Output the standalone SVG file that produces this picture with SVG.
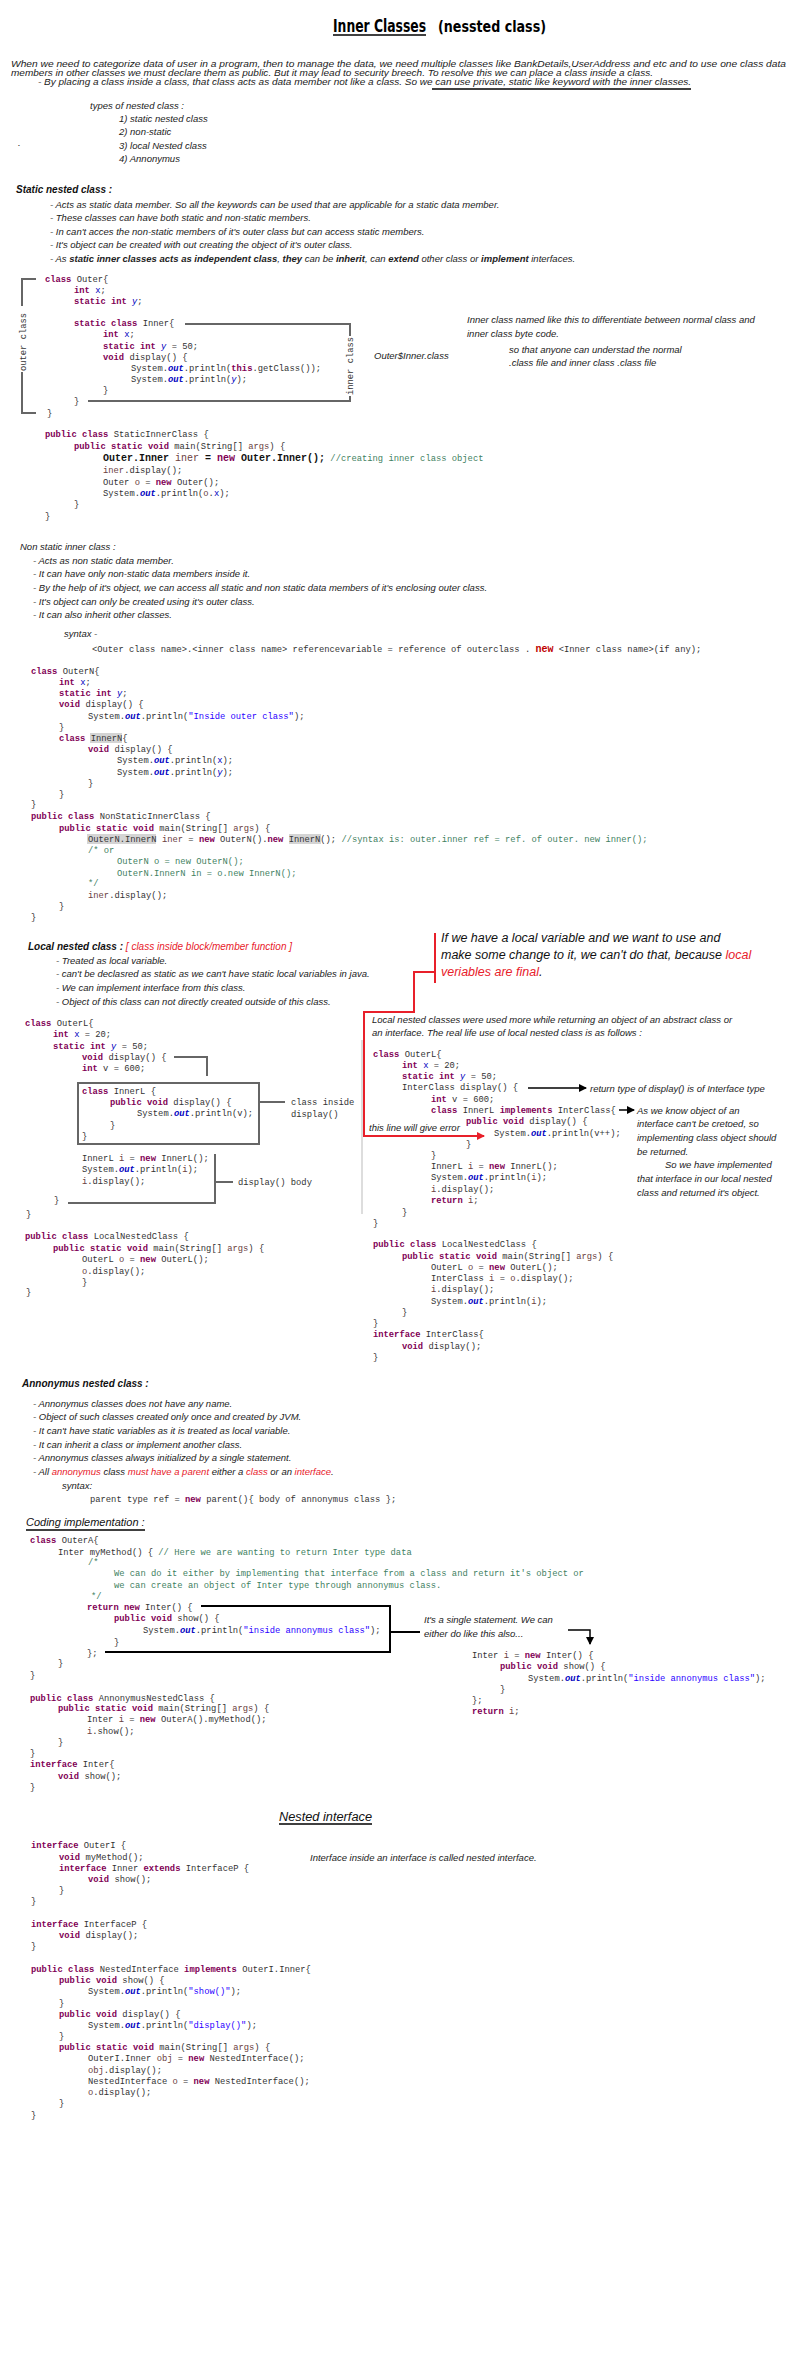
<svg xmlns="http://www.w3.org/2000/svg" width="800" height="2359" viewBox="0 0 800 2359" xml:space="preserve">
<style>
.t{font-family:"Liberation Sans",Arial,sans-serif;font-style:italic;font-size:9.5px;fill:#222}
.h{font-family:"Liberation Sans",Arial,sans-serif;font-style:italic;font-weight:bold;font-size:10px;fill:#111}
.c{font-family:"Liberation Mono","DejaVu Sans Mono",monospace;font-size:8.8px;fill:#333}
.k{fill:#7f0055;font-weight:bold}
.o{fill:#0000c0;font-weight:bold;font-style:italic}
.s{fill:#2a00ff}
.m{fill:#3f7f5f}
.f{fill:#0000c0}
.a{fill:#6a3e3e}
.r{fill:#e8202a}
.b{font-weight:bold}
.ln{stroke:#333;stroke-width:1.5;fill:none}
.gl{stroke:#666;stroke-width:2;fill:none}
.red{stroke:#e8202a;stroke-width:2;fill:none}
.hl{fill:#d4d4d4}
</style>
<defs>
<marker id="ah" markerWidth="8" markerHeight="8" refX="7" refY="4" orient="auto" markerUnits="userSpaceOnUse"><path d="M0,0 L8,4 L0,8 z" fill="#000"/></marker>
<marker id="ahr" markerWidth="8" markerHeight="8" refX="7" refY="4" orient="auto" markerUnits="userSpaceOnUse"><path d="M0,0 L8,4 L0,8 z" fill="#e8202a"/></marker>
</defs>
<rect width="800" height="2359" fill="#fff"/>

<g id="intro">
<text x="333" y="32" font-family="DejaVu Sans Condensed,sans-serif" font-weight="bold" font-size="17" textLength="93" lengthAdjust="spacingAndGlyphs">Inner Classes</text>
<line x1="333" y1="35" x2="426" y2="35" stroke="#000" stroke-width="1.5"/>
<text x="438" y="32" font-family="DejaVu Sans Condensed,sans-serif" font-weight="bold" font-size="15" textLength="108" lengthAdjust="spacingAndGlyphs">(nessted class)</text>
<text class="t" x="11" y="67" textLength="775" lengthAdjust="spacingAndGlyphs">When we need to categorize data of user in a program, then to manage the data, we need multiple classes like BankDetails,UserAddress and etc and to use one class data</text>
<text class="t" x="11" y="76" textLength="642" lengthAdjust="spacingAndGlyphs">members in other classes we must declare them as public. But it may lead to security breech. To resolve this we can place a class inside a class.</text>
<text class="t" x="38" y="85" textLength="653" lengthAdjust="spacingAndGlyphs">- By placing a class inside a class, that class acts as data member not like a class. So we can use private, static like keyword with the inner classes.</text>
<line x1="432" y1="89" x2="691" y2="89" stroke="#000" stroke-width="1.5"/>
<text class="t" x="90" y="109">types of nested class :</text>
<text class="t" x="119" y="122">1) static nested class</text>
<text class="t" x="119" y="135">2) non-static</text>
<text class="t" x="18" y="146">.</text>
<text class="t" x="119" y="149">3) local Nested class</text>
<text class="t" x="119" y="162">4) Annonymus</text>
</g>

<g id="static-section">
<text class="h" x="16" y="193">Static nested class :</text>
<text class="t" x="50" y="208">- Acts as static data member. So all the keywords can be used that are applicable for a static data member.</text>
<text class="t" x="50" y="221">- These classes can have both static and non-static members.</text>
<text class="t" x="50" y="235">- In can't acces the non-static members of it's outer class but can access static members.</text>
<text class="t" x="50" y="248">- It's object can be created with out creating the object of it's outer class.</text>
<text class="t" x="50" y="262">- As <tspan class="b">static inner classes acts as independent class</tspan>, <tspan class="b">they</tspan> can be <tspan class="b">inherit</tspan>, can <tspan class="b">extend</tspan> other class or <tspan class="b">implement</tspan> interfaces.</text>
</g>

<g id="outer-code">
<text class="c" x="45" y="282"><tspan class="k">class</tspan> Outer{</text>
<text class="c" x="74" y="293"><tspan class="k">int</tspan> <tspan class="f">x</tspan>;</text>
<text class="c" x="74" y="304"><tspan class="k">static int</tspan> <tspan class="f" font-style="italic">y</tspan>;</text>
<text class="c" x="74" y="326"><tspan class="k">static class</tspan> Inner{</text>
<text class="c" x="103" y="337"><tspan class="k">int</tspan> <tspan class="f">x</tspan>;</text>
<text class="c" x="103" y="349"><tspan class="k">static int</tspan> <tspan class="f" font-style="italic">y</tspan> = 50;</text>
<text class="c" x="103" y="360"><tspan class="k">void</tspan> display() {</text>
<text class="c" x="131" y="371">System.<tspan class="o">out</tspan>.println(<tspan class="k">this</tspan>.getClass());</text>
<text class="c" x="131" y="382">System.<tspan class="o">out</tspan>.println(<tspan class="f" font-style="italic">y</tspan>);</text>
<text class="c" x="103" y="393">}</text>
<text class="c" x="74" y="404">}</text>
<text class="c" x="47" y="416">}</text>
</g>
<g id="outer-notes">
<text class="t" x="374" y="359">Outer$Inner.class</text>
<text class="t" x="467" y="323">Inner class named like this to differentiate between normal class and</text>
<text class="t" x="467" y="337">inner class byte code.</text>
<text class="t" x="509" y="353">so that anyone can understad the normal</text>
<text class="t" x="509" y="366">.class file and inner class .class file</text>
</g>

<g id="static-main">
<text class="c" x="45" y="437"><tspan class="k">public class</tspan> StaticInnerClass {</text>
<text class="c" x="74" y="449"><tspan class="k">public static void</tspan> main(String[] <tspan class="a">args</tspan>) {</text>
<text class="c" x="103" y="461"><tspan font-size="10" font-weight="bold" fill="#111">Outer.Inner <tspan class="a" font-weight="normal">iner</tspan> = <tspan class="k">new</tspan> Outer.Inner();</tspan> <tspan class="m">//creating inner class object</tspan></text>
<text class="c" x="103" y="473"><tspan class="a">iner</tspan>.display();</text>
<text class="c" x="103" y="485">Outer <tspan class="a">o</tspan> = <tspan class="k">new</tspan> Outer();</text>
<text class="c" x="103" y="496">System.<tspan class="o">out</tspan>.println(<tspan class="a">o</tspan>.<tspan class="f">x</tspan>);</text>
<text class="c" x="74" y="507">}</text>
<text class="c" x="45" y="519">}</text>
</g>

<g id="nonstatic-section">
<text class="t" x="20" y="550">Non static inner class :</text>
<text class="t" x="33" y="564">- Acts as non static data member.</text>
<text class="t" x="33" y="577">- It can have only non-static data members inside it.</text>
<text class="t" x="33" y="591">- By the help of it's object, we can access all static and non static data members of it's enclosing outer class.</text>
<text class="t" x="33" y="605">- It's object can only be created using it's outer class.</text>
<text class="t" x="33" y="618">- It can also inherit other classes.</text>
<text class="t" x="64" y="637">syntax -</text>
<text class="c" x="92" y="652">&lt;Outer class name&gt;.&lt;inner class name&gt;  referencevariable = reference of outerclass . <tspan fill="#c00000" font-weight="bold" font-size="10">new</tspan> &lt;Inner class name&gt;(if any);</text>
</g>

<g id="outerN-code">
<text class="c" x="31" y="674"><tspan class="k">class</tspan> OuterN{</text>
<text class="c" x="59" y="685"><tspan class="k">int</tspan> <tspan class="f">x</tspan>;</text>
<text class="c" x="59" y="696"><tspan class="k">static int</tspan> <tspan class="f" font-style="italic">y</tspan>;</text>
<text class="c" x="59" y="707"><tspan class="k">void</tspan> display() {</text>
<text class="c" x="88" y="719">System.<tspan class="o">out</tspan>.println(<tspan class="s">"Inside outer class"</tspan>);</text>
<text class="c" x="59" y="730">}</text>
<rect class="hl" x="90" y="733" width="32" height="10"/>
<text class="c" x="59" y="741"><tspan class="k">class</tspan> InnerN{</text>
<text class="c" x="88" y="752"><tspan class="k">void</tspan> display() {</text>
<text class="c" x="117" y="763">System.<tspan class="o">out</tspan>.println(<tspan class="f">x</tspan>);</text>
<text class="c" x="117" y="775">System.<tspan class="o">out</tspan>.println(<tspan class="f" font-style="italic">y</tspan>);</text>
<text class="c" x="88" y="786">}</text>
<text class="c" x="59" y="797">}</text>
<text class="c" x="31" y="807">}</text>
<text class="c" x="31" y="819"><tspan class="k">public class</tspan> NonStaticInnerClass {</text>
<text class="c" x="59" y="831"><tspan class="k">public static void</tspan> main(String[] <tspan class="a">args</tspan>) {</text>
<rect class="hl" x="87" y="834" width="69" height="10"/>
<rect class="hl" x="289" y="834" width="32" height="10"/>
<text class="c" x="88" y="842">OuterN.InnerN <tspan class="a">iner</tspan> = <tspan class="k">new</tspan> OuterN().<tspan class="k">new</tspan> InnerN(); <tspan class="m">//syntax is: outer.inner ref = ref. of outer. new inner();</tspan></text>
<text class="c m" x="88" y="853">/* or</text>
<text class="c m" x="117" y="864">OuterN o = new OuterN();</text>
<text class="c m" x="117" y="876">OuterN.InnerN in = o.new InnerN();</text>
<text class="c m" x="88" y="886">*/</text>
<text class="c" x="88" y="898"><tspan class="a">iner</tspan>.display();</text>
<text class="c" x="59" y="909">}</text>
<text class="c" x="31" y="920">}</text>
</g>

<g id="local-section">
<text class="h" x="28" y="950">Local nested class : <tspan class="r" font-weight="normal">  [ class inside block/member function ]</tspan></text>
<text class="t" x="56" y="964">- Treated as local variable.</text>
<text class="t" x="56" y="977">- can't be declasred as static as we can't have static local variables in java.</text>
<text class="t" x="56" y="991">- We can implement interface from this class.</text>
<text class="t" x="56" y="1005">- Object of this class can not directly created outside of this class.</text>
<text x="441" y="942" font-family="Liberation Sans,sans-serif" font-style="italic" font-size="12.5" fill="#111">If we have a local variable and we want to use and</text>
<text x="441" y="959" font-family="Liberation Sans,sans-serif" font-style="italic" font-size="12.5" fill="#111">make some change to it, we can't do that, because <tspan class="r">local</tspan></text>
<text x="441" y="976" font-family="Liberation Sans,sans-serif" font-style="italic" font-size="12.5" fill="#111"><tspan class="r">veriables are final</tspan>.</text>
</g>

<g id="outerL-left">
<text class="c" x="25" y="1026"><tspan class="k">class</tspan> OuterL{</text>
<text class="c" x="53" y="1037"><tspan class="k">int</tspan> <tspan class="f">x</tspan> = 20;</text>
<text class="c" x="53" y="1049"><tspan class="k">static int</tspan> <tspan class="f" font-style="italic">y</tspan> = 50;</text>
<text class="c" x="82" y="1060"><tspan class="k">void</tspan>  display() {</text>
<text class="c" x="82" y="1071"><tspan class="k">int</tspan> v = 600;</text>
<rect x="78" y="1083" width="181" height="61" fill="none" stroke="#666" stroke-width="2"/>
<text class="c" x="82" y="1094"><tspan class="k">class</tspan> InnerL {</text>
<text class="c" x="110" y="1105"><tspan class="k">public void</tspan> display() {</text>
<text class="c" x="137" y="1116">System.<tspan class="o">out</tspan>.println(v);</text>
<text class="c" x="110" y="1128">}</text>
<text class="c" x="82" y="1139">}</text>
<text class="c" x="291" y="1105">class inside</text>
<text class="c" x="291" y="1117">display()</text>
<text class="c" x="82" y="1161">InnerL <tspan class="a">i</tspan> = <tspan class="k">new</tspan> InnerL();</text>
<text class="c" x="82" y="1172">System.<tspan class="o">out</tspan>.println(<tspan class="a">i</tspan>);</text>
<text class="c" x="82" y="1184"><tspan class="a">i</tspan>.display();</text>
<text class="c" x="238" y="1185">display() body</text>
<text class="c" x="54" y="1203">}</text>
<text class="c" x="26" y="1217">}</text>
<text class="c" x="25" y="1239"><tspan class="k">public class</tspan> LocalNestedClass {</text>
<text class="c" x="53" y="1251"><tspan class="k">public static void</tspan> main(String[] <tspan class="a">args</tspan>) {</text>
<text class="c" x="82" y="1262">OuterL <tspan class="a">o</tspan> = <tspan class="k">new</tspan> OuterL();</text>
<text class="c" x="82" y="1274"><tspan class="a">o</tspan>.display();</text>
<text class="c" x="82" y="1285">}</text>
<text class="c" x="26" y="1295">}</text>
</g>

<g id="outerL-right">
<text class="t" x="372" y="1023">Local nested classes were used more while returning an object of an abstract class or</text>
<text class="t" x="372" y="1036">an interface. The real life use of local nested class is as follows :</text>
<text class="c" x="373" y="1057"><tspan class="k">class</tspan> OuterL{</text>
<text class="c" x="402" y="1068"><tspan class="k">int</tspan> <tspan class="f">x</tspan> = 20;</text>
<text class="c" x="402" y="1079"><tspan class="k">static int</tspan> <tspan class="f" font-style="italic">y</tspan> = 50;</text>
<text class="c" x="402" y="1090">InterClass display() {</text>
<text class="t" x="590" y="1092">return type of display() is of Interface type</text>
<text class="c" x="431" y="1102"><tspan class="k">int</tspan> v = 600;</text>
<text class="c" x="431" y="1113"><tspan class="k">class</tspan> InnerL <tspan class="k">implements</tspan> InterClass{</text>
<text class="c" x="466" y="1124"><tspan class="k">public void</tspan> display() {</text>
<text class="c" x="494" y="1136">System.<tspan class="o">out</tspan>.println(v++);</text>
<text class="c" x="466" y="1147">}</text>
<text class="c" x="431" y="1158">}</text>
<text class="c" x="431" y="1169">InnerL <tspan class="a">i</tspan> = <tspan class="k">new</tspan> InnerL();</text>
<text class="c" x="431" y="1180">System.<tspan class="o">out</tspan>.println(<tspan class="a">i</tspan>);</text>
<text class="c" x="431" y="1192"><tspan class="a">i</tspan>.display();</text>
<text class="c" x="431" y="1203"><tspan class="k">return</tspan> <tspan class="a">i</tspan>;</text>
<text class="c" x="402" y="1215">}</text>
<text class="c" x="373" y="1226">}</text>
<text class="t" x="637" y="1114">As we know object of an</text>
<text class="t" x="637" y="1127">interface can't be cretoed, so</text>
<text class="t" x="637" y="1141">implementing class object should</text>
<text class="t" x="637" y="1155">be returned.</text>
<text class="t" x="665" y="1168">So we have implemented</text>
<text class="t" x="637" y="1182">that interface in our local nested</text>
<text class="t" x="637" y="1196">class and returned it's object.</text>
<text class="t" x="369" y="1131">this line will give error</text>
<text class="c" x="373" y="1247"><tspan class="k">public class</tspan> LocalNestedClass {</text>
<text class="c" x="402" y="1259"><tspan class="k">public static void</tspan> main(String[] <tspan class="a">args</tspan>) {</text>
<text class="c" x="431" y="1270">OuterL <tspan class="a">o</tspan> = <tspan class="k">new</tspan> OuterL();</text>
<text class="c" x="431" y="1281">InterClass <tspan class="a">i</tspan> = <tspan class="a">o</tspan>.display();</text>
<text class="c" x="431" y="1292"><tspan class="a">i</tspan>.display();</text>
<text class="c" x="431" y="1304">System.<tspan class="o">out</tspan>.println(<tspan class="a">i</tspan>);</text>
<text class="c" x="402" y="1315">}</text>
<text class="c" x="373" y="1326">}</text>
<text class="c" x="373" y="1337"><tspan class="k">interface</tspan> InterClass{</text>
<text class="c" x="402" y="1349"><tspan class="k">void</tspan> display();</text>
<text class="c" x="373" y="1360">}</text>
</g>

<g id="anon-section">
<text class="h" x="22" y="1387">Annonymus nested class :</text>
<text class="t" x="33" y="1407">- Annonymus classes does not have any name.</text>
<text class="t" x="33" y="1420">- Object of such classes created only once and created by JVM.</text>
<text class="t" x="33" y="1434">- It can't have static variables as it is treated as local variable.</text>
<text class="t" x="33" y="1448">- It can inherit a class or implement another class.</text>
<text class="t" x="33" y="1461">- Annonymus classes always initialized by a single statement.</text>
<text class="t" x="33" y="1475">- All <tspan class="r">annonymus</tspan> class <tspan class="r">must have a parent</tspan> either a <tspan class="r">class</tspan> or an <tspan class="r">interface</tspan>.</text>
<text class="t" x="62" y="1489">syntax:</text>
<text class="c" x="90" y="1502">parent type ref = <tspan class="k">new</tspan> parent(){   body of annonymus class   };</text>
<text x="26" y="1526" font-family="Liberation Sans,sans-serif" font-style="italic" font-size="11" fill="#111">Coding implementation :</text>
<line x1="26" y1="1530" x2="145" y2="1530" stroke="#000" stroke-width="1.5"/>
</g>

<g id="outerA-code">
<text class="c" x="30" y="1543"><tspan class="k">class</tspan> OuterA{</text>
<text class="c" x="58" y="1555">Inter myMethod() {    <tspan class="m">// Here we are wanting to return Inter type data</tspan></text>
<text class="c m" x="88" y="1565">/*</text>
<text class="c m" x="114" y="1576">We can do it either by implementing that interface from a class and return it's object or</text>
<text class="c m" x="114" y="1588">we can create an object of Inter type through annonymus class.</text>
<text class="c m" x="91" y="1599">*/</text>
<text class="c" x="87" y="1610"><tspan class="k">return new</tspan> Inter() {</text>
<text class="c" x="114" y="1621"><tspan class="k">public void</tspan> show() {</text>
<text class="c" x="143" y="1633">System.<tspan class="o">out</tspan>.println(<tspan class="s">"inside annonymus class"</tspan>);</text>
<text class="c" x="114" y="1645">}</text>
<text class="c" x="87" y="1656">};</text>
<text class="c" x="58" y="1666">}</text>
<text class="c" x="30" y="1678">}</text>
<text class="c" x="30" y="1701"><tspan class="k">public class</tspan> AnnonymusNestedClass {</text>
<text class="c" x="58" y="1711"><tspan class="k">public static void</tspan> main(String[] <tspan class="a">args</tspan>) {</text>
<text class="c" x="87" y="1722">Inter <tspan class="a">i</tspan> = <tspan class="k">new</tspan> OuterA().myMethod();</text>
<text class="c" x="87" y="1734"><tspan class="a">i</tspan>.show();</text>
<text class="c" x="58" y="1745">}</text>
<text class="c" x="30" y="1756">}</text>
<text class="c" x="30" y="1767"><tspan class="k">interface</tspan> Inter{</text>
<text class="c" x="58" y="1779"><tspan class="k">void</tspan> show();</text>
<text class="c" x="30" y="1790">}</text>
<text class="t" x="424" y="1623">It's a single statement. We can</text>
<text class="t" x="424" y="1637">either do like this also...</text>
<text class="c" x="472" y="1658">Inter <tspan class="a">i</tspan> = <tspan class="k">new</tspan> Inter() {</text>
<text class="c" x="500" y="1669"><tspan class="k">public void</tspan> show() {</text>
<text class="c" x="528" y="1681">System.<tspan class="o">out</tspan>.println(<tspan class="s">"inside annonymus class"</tspan>);</text>
<text class="c" x="500" y="1692">}</text>
<text class="c" x="472" y="1703">};</text>
<text class="c" x="472" y="1714"><tspan class="k">return</tspan> <tspan class="a">i</tspan>;</text>
</g>

<g id="nested-interface">
<text x="279" y="1821" font-family="Liberation Sans,sans-serif" font-style="italic" font-size="12" fill="#111" textLength="93" lengthAdjust="spacingAndGlyphs">Nested interface</text>
<line x1="279" y1="1824" x2="372" y2="1824" stroke="#000" stroke-width="1.5"/>
<text class="t" x="310" y="1861">Interface inside an interface is called nested interface.</text>
<text class="c" x="31" y="1848"><tspan class="k">interface</tspan> OuterI {</text>
<text class="c" x="59" y="1860"><tspan class="k">void</tspan> myMethod();</text>
<text class="c" x="59" y="1871"><tspan class="k">interface</tspan> Inner <tspan class="k">extends</tspan> InterfaceP {</text>
<text class="c" x="88" y="1882"><tspan class="k">void</tspan> show();</text>
<text class="c" x="59" y="1893">}</text>
<text class="c" x="31" y="1904">}</text>
<text class="c" x="31" y="1927"><tspan class="k">interface</tspan> InterfaceP {</text>
<text class="c" x="59" y="1938"><tspan class="k">void</tspan> display();</text>
<text class="c" x="31" y="1949">}</text>
<text class="c" x="31" y="1972"><tspan class="k">public class</tspan> NestedInterface <tspan class="k">implements</tspan> OuterI.Inner{</text>
<text class="c" x="59" y="1983"><tspan class="k">public void</tspan> show() {</text>
<text class="c" x="88" y="1994">System.<tspan class="o">out</tspan>.println(<tspan class="s">"show()"</tspan>);</text>
<text class="c" x="59" y="2006">}</text>
<text class="c" x="59" y="2017"><tspan class="k">public void</tspan> display() {</text>
<text class="c" x="88" y="2028">System.<tspan class="o">out</tspan>.println(<tspan class="s">"display()"</tspan>);</text>
<text class="c" x="59" y="2039">}</text>
<text class="c" x="59" y="2050"><tspan class="k">public static void</tspan> main(String[] <tspan class="a">args</tspan>) {</text>
<text class="c" x="88" y="2061">OuterI.Inner <tspan class="a">obj</tspan> = <tspan class="k">new</tspan> NestedInterface();</text>
<text class="c" x="88" y="2073"><tspan class="a">obj</tspan>.display();</text>
<text class="c" x="88" y="2084">NestedInterface <tspan class="a">o</tspan> = <tspan class="k">new</tspan> NestedInterface();</text>
<text class="c" x="88" y="2095"><tspan class="a">o</tspan>.display();</text>
<text class="c" x="59" y="2106">}</text>
<text class="c" x="31" y="2118">}</text>
</g>

<g id="connectors">
<path class="gl" d="M36,279 H22 V413 H36"/>
<rect x="17" y="306" width="11" height="66" fill="#fff"/>
<text class="c" transform="translate(26,342) rotate(-90)" text-anchor="middle">outer class</text>
<path class="gl" d="M185,324 H350 V401 H88"/>
<rect x="345" y="336" width="11" height="60" fill="#fff"/>
<text class="c" transform="translate(353,366) rotate(-90)" text-anchor="middle">inner class</text>
<path class="gl" d="M174,1057 H207 V1076"/>
<line class="gl" x1="259" y1="1102" x2="285" y2="1102"/>
<path class="gl" d="M215,1154 V1203 H68"/>
<line class="gl" x1="215" y1="1182" x2="233" y2="1182"/>
<line x1="362" y1="1040" x2="362" y2="1214" stroke="#bbb" stroke-width="1"/>
<path class="red" d="M435,933 V983 M435,972 H414 V1012 H364 V1136 H484" marker-end="url(#ahr)"/>
<line x1="528" y1="1088" x2="586" y2="1088" stroke="#000" stroke-width="1.5" marker-end="url(#ah)"/>
<line x1="619" y1="1110" x2="634" y2="1110" stroke="#000" stroke-width="1.5" marker-end="url(#ah)"/>
<path d="M201,1606 H390 V1652 H105" stroke="#000" stroke-width="2" fill="none"/>
<line x1="390" y1="1632" x2="420" y2="1632" stroke="#000" stroke-width="2"/>
<path d="M568,1630 H590 V1644" stroke="#000" stroke-width="1.5" fill="none" marker-end="url(#ah)"/>
</g>
</svg>
